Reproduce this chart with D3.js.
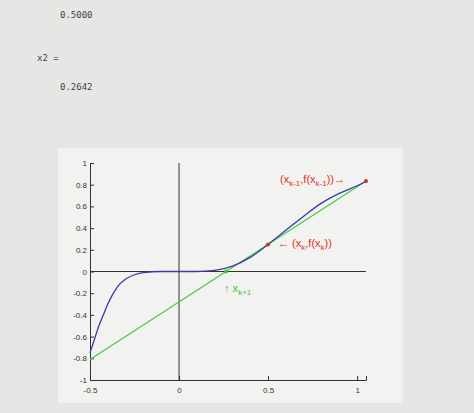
<!DOCTYPE html>
<html>
<head>
<meta charset="utf-8">
<script src="https://cdn.jsdelivr.net/npm/d3@7"></script>
<style>
body { margin: 0; background: #e6e6e4; }
svg { display: block; }
</style>
</head>
<body>
<svg id="chart" width="474" height="413"></svg>
<script>
const curveX = [-0.5, -0.47, -0.45, -0.42, -0.4, -0.35, -0.3, -0.25, -0.2, -0.1, 0, 0.1, 0.2, 0.3, 0.4, 0.5, 0.6, 0.7, 0.8, 0.9, 1.0, 1.05];
const curveY = [-0.75, -0.6, -0.5, -0.38, -0.3, -0.15, -0.07, -0.03, -0.01, 0, 0, 0, 0.01, 0.05, 0.13, 0.25, 0.38, 0.51, 0.63, 0.72, 0.79, 0.83];
const secantX = [-0.5, 1.05];
const xk = 0.5, fk = 0.25;
const xPrev = 1.05, fPrev = 0.833;
const xNext = 0.2642;
const xTicks = [-0.5, 0, 0.5, 1];
const yTicks = [-1, -0.8, -0.6, -0.4, -0.2, 0, 0.2, 0.4, 0.6, 0.8, 1];
const consoleLines = [["0.5000", 60, 18], ["x2 =", 37, 61], ["0.2642", 60, 90]];

const svg = d3.select("#chart");

// texte de la console
consoleLines.forEach(([t, x, y]) => {
    svg.append("text").attr("x", x).attr("y", y).text(t)
        .attr("font-family", "DejaVu Sans Mono").attr("font-size", 9).attr("fill", "#444");
});

// fond de la figure
svg.append("rect").attr("x", 58).attr("y", 148).attr("width", 345).attr("height", 255).attr("fill", "#f2f2f0");

const x = d3.scaleLinear().domain([-0.5, 1.05]).range([90, 366]);
const y = d3.scaleLinear().domain([-1, 1]).range([380, 163]);
const fmt = d => String(d);

// axes
const ax = svg.append("g").attr("transform", `translate(0,${y(-1)})`)
    .call(d3.axisBottom(x).tickValues(xTicks).tickSize(-4).tickFormat(fmt));
const ay = svg.append("g").attr("transform", `translate(${x(-0.5)},0)`)
    .call(d3.axisLeft(y).tickValues(yTicks).tickSize(-4).tickFormat(fmt));
[ax, ay].forEach(g => {
    g.selectAll("path,line").attr("stroke", "#333");
    g.selectAll("text").attr("font-family", "Liberation Sans").attr("font-size", 8).attr("fill", "#333");
});
ax.selectAll("text").attr("dy", "1.2em");

// lignes x=0 et y=0
svg.append("line").attr("x1", x(0)).attr("x2", x(0)).attr("y1", y(1)).attr("y2", y(-1)).attr("stroke", "#333");
svg.append("line").attr("x1", x(-0.5)).attr("x2", x(1.05)).attr("y1", y(0)).attr("y2", y(0)).attr("stroke", "#333");

// sécante
const slope = (fPrev - fk) / (xPrev - xk);
svg.append("path")
    .datum(secantX.map(v => [v, fk + slope * (v - xk)]))
    .attr("d", d3.line().x(d => x(d[0])).y(d => y(d[1])))
    .attr("stroke", "#44cc44").attr("stroke-width", 1.2).attr("fill", "none");

// courbe
svg.append("path")
    .datum(curveX.map((v, i) => [v, curveY[i]]))
    .attr("d", d3.line().x(d => x(d[0])).y(d => y(d[1])).curve(d3.curveMonotoneX))
    .attr("stroke", "#3a3aa8").attr("stroke-width", 1.3).attr("fill", "none");

// points
svg.append("circle").attr("cx", x(xPrev)).attr("cy", y(fPrev)).attr("r", 2).attr("fill", "#cc3322");
svg.append("circle").attr("cx", x(xk)).attr("cy", y(fk)).attr("r", 2).attr("fill", "#cc3322");
svg.append("circle").attr("cx", x(xNext)).attr("cy", y(0)).attr("r", 2).attr("fill", "#33cc33");

// étiquettes
function label(px, py, color, parts) {
    const t = svg.append("text").attr("x", px).attr("y", py)
        .attr("font-family", "Liberation Sans").attr("font-size", 11).attr("fill", color);
    let shift = 0;
    parts.forEach(([s, sub]) => {
        const target = sub ? 3 : 0;
        t.append("tspan").text(s).attr("font-size", sub ? 8 : 11).attr("dy", target - shift);
        shift = target;
    });
}
label(x(xPrev) - 86, y(fPrev) + 2, "#dd3322", [["(x"], ["k-1", 1], [",f(x"], ["k-1", 1], ["))\u2192"]]);
label(x(xk) + 10, y(fk) + 3, "#dd3322", [["\u2190 (x"], ["k", 1], [",f(x"], ["k", 1], ["))"]]);
label(x(xNext) - 2, y(0) + 20, "#33cc33", [["\u2191 x"], ["k+1", 1]]);
</script>
</body>
</html>
